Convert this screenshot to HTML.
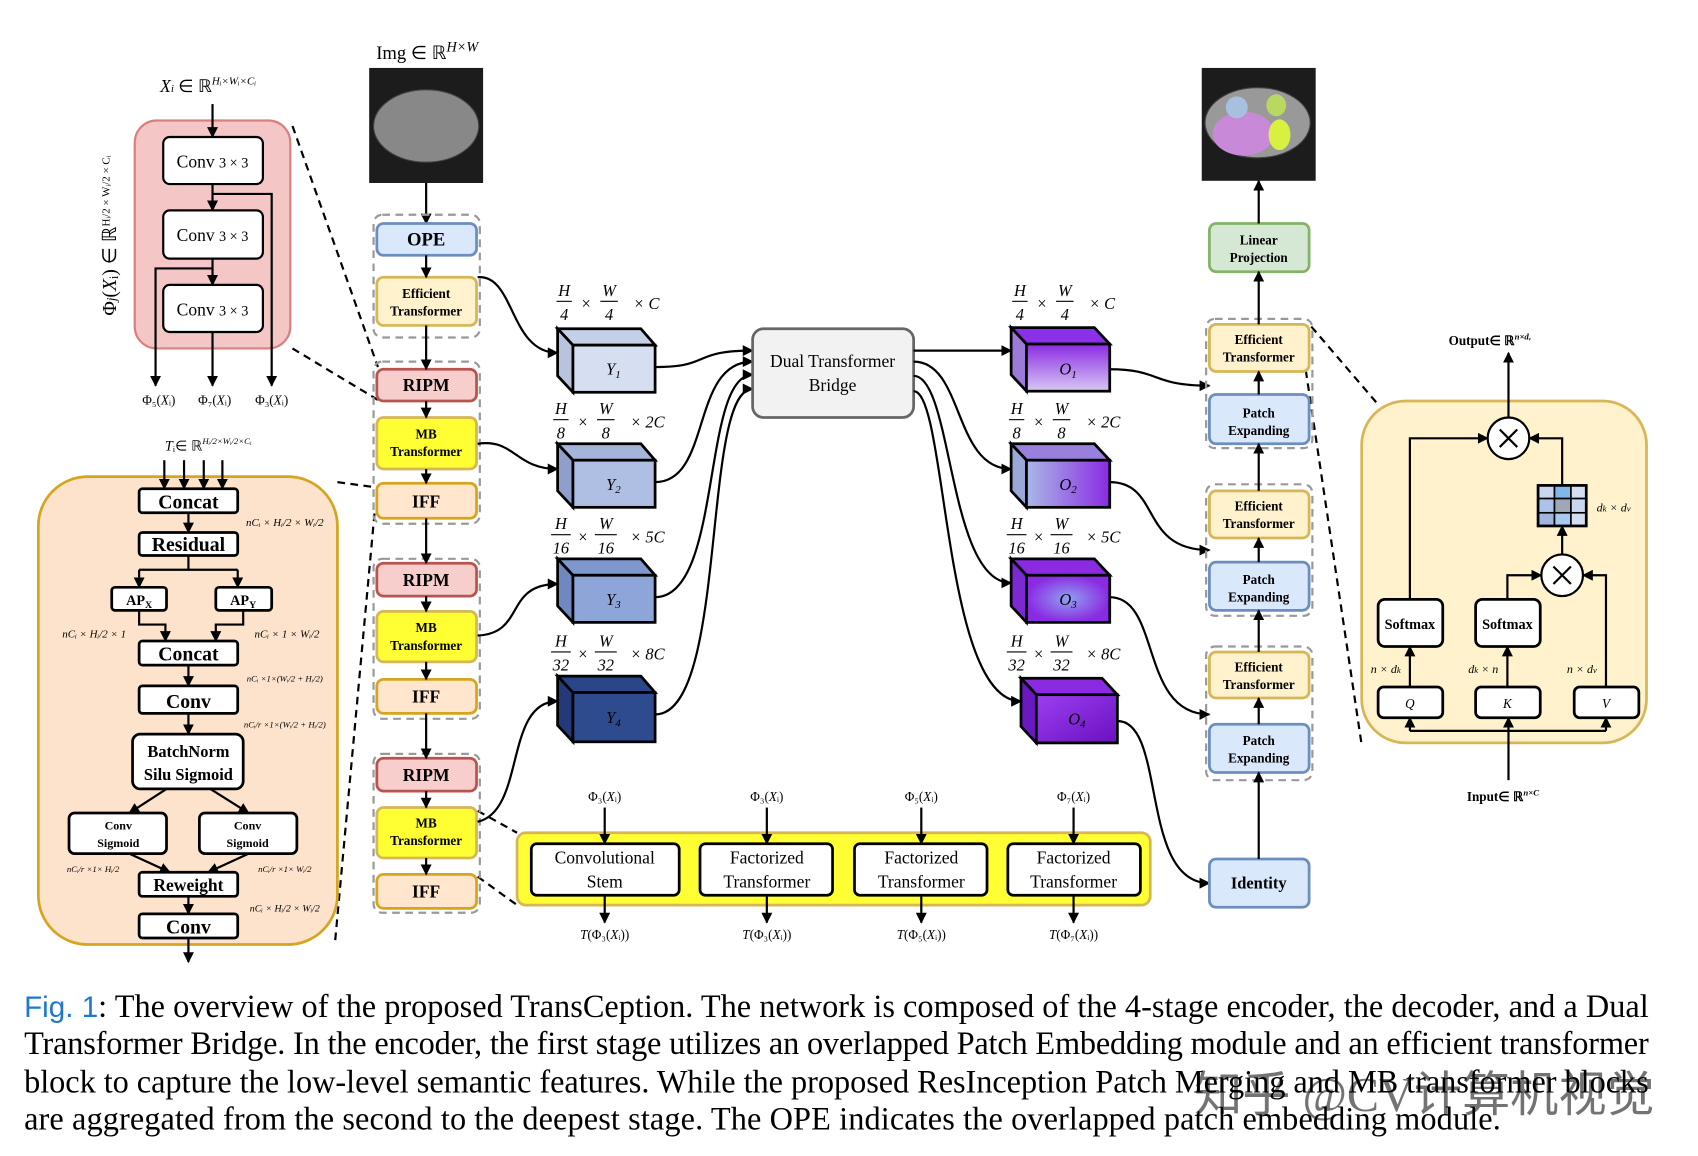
<!DOCTYPE html>
<html><head><meta charset="utf-8"><style>
html,body{margin:0;padding:0;background:#fff;}
svg{display:block;}
text{font-family:"Liberation Serif",serif;fill:#000;}
.b{font-weight:bold;}
.i{font-style:italic;}
</style></head><body>
<svg width="1698" height="1156" viewBox="0 0 1550 1055" preserveAspectRatio="none" xmlns="http://www.w3.org/2000/svg">
<defs>
<marker id="a" viewBox="0 0 10 10" refX="9" refY="5" markerWidth="5" markerHeight="5" orient="auto"><path d="M0,0L10,5L0,10z" fill="#000"/></marker>
<linearGradient id="p1" x1="0" y1="0" x2="0" y2="1"><stop offset="0" stop-color="#8a2be2"/><stop offset="1" stop-color="#d8c8f5"/></linearGradient>
<linearGradient id="p2" x1="0" y1="0" x2="1" y2="0"><stop offset="0" stop-color="#a9b8e8"/><stop offset="1" stop-color="#8a2be2"/></linearGradient>
<radialGradient id="p3"><stop offset="0" stop-color="#8fa0f0"/><stop offset="1" stop-color="#8a2be2"/></radialGradient>
<linearGradient id="p4" x1="0" y1="0" x2="1" y2="1"><stop offset="0" stop-color="#9a40f0"/><stop offset="1" stop-color="#6a10c0"/></linearGradient>
</defs>
<g stroke="#000" stroke-width="2" fill="none">

<rect x="123" y="110" width="142" height="208" rx="20" fill="#f5c6c6" stroke="#d9807f"/>
<rect x="149" y="125" width="91" height="43" rx="6" fill="#fff"/>
<rect x="149" y="192" width="91" height="44" rx="6" fill="#fff"/>
<rect x="149" y="260" width="91" height="43" rx="6" fill="#fff"/>
<line x1="194" y1="95" x2="194" y2="125" marker-end="url(#a)"/>
<line x1="194" y1="168" x2="194" y2="192" marker-end="url(#a)"/>
<line x1="194" y1="236" x2="194" y2="260" marker-end="url(#a)"/>
<line x1="194" y1="303" x2="194" y2="352" marker-end="url(#a)"/>
<polyline points="194,177 248,177 248,352" marker-end="url(#a)"/>
<polyline points="194,245 142,245 142,352" marker-end="url(#a)"/>
<g stroke-dasharray="7,5"><line x1="267" y1="115" x2="345" y2="335"/><line x1="267" y1="318" x2="345" y2="365"/>
<line x1="308" y1="440" x2="345" y2="445"/><line x1="306" y1="858" x2="342" y2="467"/>
<line x1="436" y1="740" x2="472" y2="760"/><line x1="436" y1="800" x2="472" y2="826"/>
<line x1="1197" y1="298" x2="1257" y2="368"/><line x1="1192" y1="338" x2="1243" y2="680"/></g>

<rect x="337" y="62" width="104" height="105" fill="#1c1c1c" stroke="none"/>
<ellipse cx="389" cy="115" rx="48" ry="33" fill="#888" stroke="#444" stroke-width="1"/>
<rect x="1097" y="62" width="104" height="103" fill="#1c1c1c" stroke="none"/>
<ellipse cx="1148" cy="112" rx="48" ry="32" fill="#999" stroke="#444" stroke-width="1"/>
<ellipse cx="1135" cy="122" rx="28" ry="20" fill="#c88ad8" stroke="none"/>
<ellipse cx="1168" cy="123" rx="10" ry="14" fill="#d8f040" stroke="none"/>
<ellipse cx="1165" cy="96" rx="9" ry="10" fill="#b8d860" stroke="none"/>
<ellipse cx="1129" cy="98" rx="10" ry="10" fill="#a8c0e0" stroke="none"/>
<line x1="389" y1="167" x2="389" y2="204" marker-end="url(#a)"/>

<g stroke="#999" stroke-dasharray="7,5">
<rect x="341" y="196" width="97" height="112" rx="8"/>
<rect x="341" y="330" width="97" height="148" rx="8"/>
<rect x="341" y="510" width="97" height="146" rx="8"/>
<rect x="341" y="688" width="97" height="145" rx="8"/>
</g>
<rect x="344" y="204" width="91" height="29" rx="6" fill="#dae8fc" stroke="#6c8ebf" stroke-width="2.5"/>
<rect x="344" y="253" width="91" height="44" rx="6" fill="#fff2cc" stroke="#d6b656" stroke-width="2.5"/>
<g stroke-width="2.5">
<rect x="344" y="337" width="91" height="29" rx="6" fill="#f8cecc" stroke="#b85450"/>
<rect x="344" y="381" width="91" height="47" rx="6" fill="#ffff33" stroke="#d6b656"/>
<rect x="344" y="441" width="91" height="32" rx="6" fill="#ffe6cc" stroke="#d6a520"/>
<rect x="344" y="514" width="91" height="30" rx="6" fill="#f8cecc" stroke="#b85450"/>
<rect x="344" y="558" width="91" height="46" rx="6" fill="#ffff33" stroke="#d6b656"/>
<rect x="344" y="620" width="91" height="31" rx="6" fill="#ffe6cc" stroke="#d6a520"/>
<rect x="344" y="692" width="91" height="30" rx="6" fill="#f8cecc" stroke="#b85450"/>
<rect x="344" y="737" width="91" height="46" rx="6" fill="#ffff33" stroke="#d6b656"/>
<rect x="344" y="798" width="91" height="31" rx="6" fill="#ffe6cc" stroke="#d6a520"/>
</g>
<line x1="389" y1="233" x2="389" y2="253" marker-end="url(#a)"/>
<line x1="389" y1="297" x2="389" y2="337" marker-end="url(#a)"/>
<line x1="389" y1="366" x2="389" y2="381" marker-end="url(#a)"/>
<line x1="389" y1="428" x2="389" y2="441" marker-end="url(#a)"/>
<line x1="389" y1="473" x2="389" y2="514" marker-end="url(#a)"/>
<line x1="389" y1="544" x2="389" y2="558" marker-end="url(#a)"/>
<line x1="389" y1="604" x2="389" y2="620" marker-end="url(#a)"/>
<line x1="389" y1="651" x2="389" y2="692" marker-end="url(#a)"/>
<line x1="389" y1="722" x2="389" y2="737" marker-end="url(#a)"/>
<line x1="389" y1="783" x2="389" y2="798" marker-end="url(#a)"/>

<g stroke-width="2.5">
<path d="M509,300 L585,300 L598,315 L523,315 Z" fill="#c5d0e8"/><path d="M509,300 L523,315 L523,358 L509,343 Z" fill="#b8c3dd"/><rect x="523" y="315" width="75" height="43" fill="#d6dff2"/>
<path d="M509,405 L585,405 L598,420 L523,420 Z" fill="#a5b5da"/><path d="M509,405 L523,420 L523,463 L509,448 Z" fill="#8f9fcc"/><rect x="523" y="420" width="75" height="43" fill="#aebfe3"/>
<path d="M509,510 L585,510 L598,525 L523,525 Z" fill="#7f97cf"/><path d="M509,510 L523,525 L523,568 L509,553 Z" fill="#7088c0"/><rect x="523" y="525" width="75" height="43" fill="#8da5d9"/>
<path d="M509,617 L585,617 L598,632 L523,632 Z" fill="#2a4588"/><path d="M509,617 L523,632 L523,677 L509,662 Z" fill="#223a78"/><rect x="523" y="632" width="75" height="45" fill="#2f4b90"/>
</g>
<path d="M436,253 C470,250 465,322 509,322" marker-end="url(#a)"/>
<path d="M436,405 C470,400 470,428 509,428" marker-end="url(#a)"/>
<path d="M436,580 C480,578 460,533 509,533" marker-end="url(#a)"/>
<path d="M436,750 C480,740 460,640 509,640" marker-end="url(#a)"/>
<path d="M598,335 C650,335 630,320 687,320" marker-end="url(#a)"/>
<path d="M598,440 C650,440 630,330 687,330" marker-end="url(#a)"/>
<path d="M598,545 C660,545 640,342 687,342" marker-end="url(#a)"/>
<path d="M598,652 C665,652 640,355 687,355" marker-end="url(#a)"/>

<rect x="687" y="300" width="147" height="81" rx="10" fill="#f2f2f2" stroke="#666" stroke-width="2.5"/>

<path d="M834,320 L923,320" marker-end="url(#a)"/>
<path d="M834,330 C880,330 870,428 923,428" marker-end="url(#a)"/>
<path d="M834,343 C870,343 865,532 923,532" marker-end="url(#a)"/>
<path d="M834,357 C865,357 860,640 932,640" marker-end="url(#a)"/>

<g stroke-width="2.5">
<path d="M923,299 L999,299 L1013,314 L937,314 Z" fill="#8a30e8"/><path d="M923,299 L937,314 L937,357 L923,342 Z" fill="#9b7ad8"/><rect x="937" y="314" width="76" height="43" fill="url(#p1)"/>
<path d="M923,405 L999,405 L1013,420 L937,420 Z" fill="#9a80dd"/><path d="M923,405 L937,420 L937,463 L923,448 Z" fill="#9aa8d8"/><rect x="937" y="420" width="76" height="43" fill="url(#p2)"/>
<path d="M923,510 L999,510 L1013,525 L937,525 Z" fill="#8a2be2"/><path d="M923,510 L937,525 L937,568 L923,553 Z" fill="#7a2ad0"/><rect x="937" y="525" width="76" height="43" fill="url(#p3)"/>
<path d="M932,619 L1006,619 L1020,634 L946,634 Z" fill="#8a2be2"/><path d="M932,619 L946,634 L946,678 L932,663 Z" fill="#6a18c0"/><rect x="946" y="634" width="74" height="44" fill="url(#p4)"/>
</g>
<path d="M1013,337 C1060,337 1050,352 1104,352" marker-end="url(#a)"/>
<path d="M1013,440 C1060,440 1040,502 1104,502" marker-end="url(#a)"/>
<path d="M1013,545 C1060,545 1040,652 1104,652" marker-end="url(#a)"/>
<path d="M1020,658 C1065,658 1040,806 1104,806" marker-end="url(#a)"/>

<g stroke="#999" stroke-dasharray="7,5">
<rect x="1101" y="291" width="97" height="118" rx="8"/>
<rect x="1101" y="442" width="97" height="120" rx="8"/>
<rect x="1101" y="590" width="97" height="122" rx="8"/>
</g>
<g stroke-width="2.5">
<rect x="1104" y="204" width="91" height="44" rx="6" fill="#d5e8d4" stroke="#82b366"/>
<rect x="1104" y="296" width="91" height="43" rx="6" fill="#fff2cc" stroke="#d6b656"/>
<rect x="1104" y="360" width="91" height="45" rx="6" fill="#dae8fc" stroke="#6c8ebf"/>
<rect x="1104" y="448" width="91" height="43" rx="6" fill="#fff2cc" stroke="#d6b656"/>
<rect x="1104" y="513" width="91" height="44" rx="6" fill="#dae8fc" stroke="#6c8ebf"/>
<rect x="1104" y="595" width="91" height="42" rx="6" fill="#fff2cc" stroke="#d6b656"/>
<rect x="1104" y="661" width="91" height="44" rx="6" fill="#dae8fc" stroke="#6c8ebf"/>
<rect x="1104" y="784" width="91" height="44" rx="6" fill="#dae8fc" stroke="#6c8ebf"/>
</g>
<line x1="1149" y1="784" x2="1149" y2="705" marker-end="url(#a)"/>
<line x1="1149" y1="661" x2="1149" y2="637" marker-end="url(#a)"/>
<line x1="1149" y1="595" x2="1149" y2="557" marker-end="url(#a)"/>
<line x1="1149" y1="513" x2="1149" y2="491" marker-end="url(#a)"/>
<line x1="1149" y1="448" x2="1149" y2="405" marker-end="url(#a)"/>
<line x1="1149" y1="360" x2="1149" y2="339" marker-end="url(#a)"/>
<line x1="1149" y1="296" x2="1149" y2="248" marker-end="url(#a)"/>
<line x1="1149" y1="204" x2="1149" y2="165" marker-end="url(#a)"/>

<rect x="1243" y="366" width="260" height="312" rx="40" fill="#fff2cc" stroke="#d6b656" stroke-width="2.5"/>
<circle cx="1377" cy="400" r="19" fill="#fff"/>
<path d="M1369,392L1385,408M1385,392L1369,408"/>
<circle cx="1426" cy="525" r="19" fill="#fff"/>
<path d="M1418,517L1434,533M1434,517L1418,533"/>
<line x1="1377" y1="381" x2="1377" y2="322" marker-end="url(#a)"/>
<g stroke-width="1.5">
<rect x="1404" y="443" width="15" height="12" fill="#c9d6ef"/><rect x="1419" y="443" width="15" height="12" fill="#7fb8ea"/><rect x="1434" y="443" width="14" height="12" fill="#d4def2"/>
<rect x="1404" y="455" width="15" height="13" fill="#a9c4e8"/><rect x="1419" y="455" width="15" height="13" fill="#a0a8b8"/><rect x="1434" y="455" width="14" height="13" fill="#c9d6ef"/>
<rect x="1404" y="468" width="15" height="12" fill="#9fb6e0"/><rect x="1419" y="468" width="15" height="12" fill="#a9c9ee"/><rect x="1434" y="468" width="14" height="12" fill="#d4def2"/>
</g>
<rect x="1404" y="443" width="44" height="37" stroke-width="2.5"/>
<line x1="1426" y1="506" x2="1426" y2="480" marker-end="url(#a)"/>
<polyline points="1426,443 1426,400 1396,400" marker-end="url(#a)"/>
<polyline points="1287,547 1287,400 1358,400" marker-end="url(#a)"/>
<polyline points="1376,547 1376,525 1407,525" marker-end="url(#a)"/>
<polyline points="1466,627 1466,525 1445,525" marker-end="url(#a)"/>
<rect x="1258" y="547" width="59" height="43" rx="6" fill="#fff" stroke-width="2.5"/>
<rect x="1347" y="547" width="59" height="43" rx="6" fill="#fff" stroke-width="2.5"/>
<rect x="1258" y="627" width="59" height="28" rx="5" fill="#fff" stroke-width="2.5"/>
<rect x="1347" y="627" width="59" height="28" rx="5" fill="#fff" stroke-width="2.5"/>
<rect x="1437" y="627" width="59" height="28" rx="5" fill="#fff" stroke-width="2.5"/>
<line x1="1287" y1="627" x2="1287" y2="590" marker-end="url(#a)"/>
<line x1="1376" y1="627" x2="1376" y2="590" marker-end="url(#a)"/>
<line x1="1377" y1="712" x2="1377" y2="655" marker-end="url(#a)"/>
<polyline points="1287,667 1466,667"/>
<line x1="1287" y1="667" x2="1287" y2="655" marker-end="url(#a)"/>
<line x1="1466" y1="667" x2="1466" y2="655" marker-end="url(#a)"/>

<rect x="472" y="760" width="578" height="66" rx="8" fill="#ffff33" stroke="#d6b656" stroke-width="2.5"/>
<g stroke-width="2.5" fill="#fff">
<rect x="485" y="770" width="135" height="47" rx="5"/>
<rect x="639" y="770" width="121" height="47" rx="5"/>
<rect x="780" y="770" width="121" height="47" rx="5"/>
<rect x="920" y="770" width="121" height="47" rx="5"/>
</g>
<line x1="552" y1="737" x2="552" y2="770" marker-end="url(#a)"/>
<line x1="700" y1="737" x2="700" y2="770" marker-end="url(#a)"/>
<line x1="841" y1="737" x2="841" y2="770" marker-end="url(#a)"/>
<line x1="980" y1="737" x2="980" y2="770" marker-end="url(#a)"/>
<line x1="552" y1="817" x2="552" y2="842" marker-end="url(#a)"/>
<line x1="700" y1="817" x2="700" y2="842" marker-end="url(#a)"/>
<line x1="841" y1="817" x2="841" y2="842" marker-end="url(#a)"/>
<line x1="980" y1="817" x2="980" y2="842" marker-end="url(#a)"/>

<rect x="35" y="435" width="273" height="427" rx="45" fill="#fde3cc" stroke="#d6a520" stroke-width="2.5"/>
<line x1="150" y1="420" x2="150" y2="446" marker-end="url(#a)"/>
<line x1="168" y1="420" x2="168" y2="446" marker-end="url(#a)"/>
<line x1="186" y1="420" x2="186" y2="446" marker-end="url(#a)"/>
<line x1="203" y1="420" x2="203" y2="446" marker-end="url(#a)"/>
<g stroke-width="2.5" fill="#fff">
<rect x="127" y="446" width="90" height="22" rx="3"/>
<rect x="127" y="486" width="90" height="21" rx="3"/>
<rect x="102" y="536" width="50" height="21" rx="3"/>
<rect x="197" y="536" width="51" height="21" rx="3"/>
<rect x="127" y="585" width="90" height="22" rx="3"/>
<rect x="127" y="626" width="90" height="25" rx="3"/>
<rect x="121" y="670" width="101" height="50" rx="7"/>
<rect x="63" y="742" width="89" height="37" rx="5"/>
<rect x="182" y="742" width="89" height="37" rx="5"/>
<rect x="127" y="796" width="90" height="22" rx="3"/>
<rect x="127" y="834" width="90" height="22" rx="3"/>
</g>
<line x1="172" y1="468" x2="172" y2="486" marker-end="url(#a)"/>
<polyline points="172,507 172,520 127,520"/><polyline points="172,520 217,520"/>
<line x1="127" y1="520" x2="127" y2="536" marker-end="url(#a)"/>
<line x1="217" y1="520" x2="217" y2="536" marker-end="url(#a)"/>
<polyline points="127,557 127,570 151,570 151,585" marker-end="url(#a)"/>
<polyline points="222,557 222,570 197,570 197,585" marker-end="url(#a)"/>
<line x1="172" y1="607" x2="172" y2="626" marker-end="url(#a)"/>
<line x1="172" y1="651" x2="172" y2="670" marker-end="url(#a)"/>
<line x1="152" y1="720" x2="118" y2="742" marker-end="url(#a)"/>
<line x1="192" y1="720" x2="227" y2="742" marker-end="url(#a)"/>
<line x1="118" y1="779" x2="155" y2="796" marker-end="url(#a)"/>
<line x1="227" y1="779" x2="190" y2="796" marker-end="url(#a)"/>
<line x1="172" y1="818" x2="172" y2="834" marker-end="url(#a)"/>
<line x1="172" y1="856" x2="172" y2="878" marker-end="url(#a)"/>
</g>

<g font-size="13" text-anchor="middle">
<text x="190" y="84" font-size="16"><tspan class="i">X</tspan><tspan font-size="10" class="i">i</tspan> ∈ ℝ<tspan font-size="10" dy="-7" class="i">Hᵢ×Wᵢ×Cᵢ</tspan></text>
<text x="194" y="153" font-size="16">Conv  <tspan font-size="13">3 × 3</tspan></text>
<text x="194" y="220" font-size="16">Conv  <tspan font-size="13">3 × 3</tspan></text>
<text x="194" y="288" font-size="16">Conv  <tspan font-size="13">3 × 3</tspan></text>
<text x="145" y="369" font-size="12">Φ₅(<tspan class="i">X</tspan>ᵢ)</text>
<text x="196" y="369" font-size="12">Φ₇(<tspan class="i">X</tspan>ᵢ)</text>
<text x="248" y="369" font-size="12">Φ₃(<tspan class="i">X</tspan>ᵢ)</text>
<text x="0" y="0" font-size="18" transform="translate(106,215) rotate(-90)">Φ<tspan class="i" font-size="12">j</tspan>(<tspan class="i">X</tspan>ᵢ) ∈ ℝ<tspan font-size="10" dy="-6">Hᵢ/2 × Wᵢ/2 × Cᵢ</tspan></text>
<text x="390" y="54" font-size="17">Img ∈ ℝ<tspan font-size="13" dy="-7" class="i">H×W</tspan></text>

<text x="389" y="224" font-size="17" class="b">OPE</text>
<text x="389" y="272" font-size="12" class="b">Efficient</text><text x="389" y="288" font-size="12" class="b">Transformer</text>
<text x="389" y="357" font-size="16" class="b">RIPM</text>
<text x="389" y="400" font-size="12" class="b">MB</text><text x="389" y="416" font-size="12" class="b">Transformer</text>
<text x="389" y="463" font-size="16" class="b">IFF</text>
<text x="389" y="535" font-size="16" class="b">RIPM</text>
<text x="389" y="577" font-size="12" class="b">MB</text><text x="389" y="593" font-size="12" class="b">Transformer</text>
<text x="389" y="641" font-size="16" class="b">IFF</text>
<text x="389" y="713" font-size="16" class="b">RIPM</text>
<text x="389" y="755" font-size="12" class="b">MB</text><text x="389" y="771" font-size="12" class="b">Transformer</text>
<text x="389" y="819" font-size="16" class="b">IFF</text>

<text x="560" y="342" font-size="15" class="i">Y<tspan font-size="10" dy="3">1</tspan></text>
<text x="560" y="447" font-size="15" class="i">Y<tspan font-size="10" dy="3">2</tspan></text>
<text x="560" y="552" font-size="15" class="i">Y<tspan font-size="10" dy="3">3</tspan></text>
<text x="560" y="660" font-size="15" class="i">Y<tspan font-size="10" dy="3">4</tspan></text>
<text x="975" y="342" font-size="15" class="i">O<tspan font-size="10" dy="3">1</tspan></text>
<text x="975" y="447" font-size="15" class="i">O<tspan font-size="10" dy="3">2</tspan></text>
<text x="975" y="552" font-size="15" class="i">O<tspan font-size="10" dy="3">3</tspan></text>
<text x="983" y="661" font-size="15" class="i">O<tspan font-size="10" dy="3">4</tspan></text>

<text x="760" y="335" font-size="16">Dual Transformer</text>
<text x="760" y="357" font-size="16">Bridge</text>

<text x="1149" y="223" font-size="12" class="b">Linear</text><text x="1149" y="239" font-size="12" class="b">Projection</text>
<text x="1149" y="314" font-size="12" class="b">Efficient</text><text x="1149" y="330" font-size="12" class="b">Transformer</text>
<text x="1149" y="381" font-size="12" class="b">Patch</text><text x="1149" y="397" font-size="12" class="b">Expanding</text>
<text x="1149" y="466" font-size="12" class="b">Efficient</text><text x="1149" y="482" font-size="12" class="b">Transformer</text>
<text x="1149" y="533" font-size="12" class="b">Patch</text><text x="1149" y="549" font-size="12" class="b">Expanding</text>
<text x="1149" y="613" font-size="12" class="b">Efficient</text><text x="1149" y="629" font-size="12" class="b">Transformer</text>
<text x="1149" y="680" font-size="12" class="b">Patch</text><text x="1149" y="696" font-size="12" class="b">Expanding</text>
<text x="1149" y="811" font-size="15" class="b">Identity</text>

<text x="1360" y="315" font-size="12" class="b">Output∈ ℝ<tspan font-size="8" dy="-5" class="i">n×dᵥ</tspan></text>
<text x="1372" y="731" font-size="12" class="b">Input∈ ℝ<tspan font-size="8" dy="-5" class="i">n×C</tspan></text>
<text x="1287" y="574" font-size="13" class="b">Softmax</text>
<text x="1376" y="574" font-size="13" class="b">Softmax</text>
<text x="1287" y="646" font-size="12" class="i">Q</text>
<text x="1376" y="646" font-size="12" class="i">K</text>
<text x="1466" y="646" font-size="12" class="i">V</text>
<text x="1265" y="614" font-size="11" class="i">n × d<tspan font-size="8">k</tspan></text>
<text x="1354" y="614" font-size="11" class="i">d<tspan font-size="8">k</tspan> × n</text>
<text x="1444" y="614" font-size="11" class="i">n × d<tspan font-size="8">v</tspan></text>
<text x="1473" y="467" font-size="11" class="i">d<tspan font-size="8">k</tspan> × d<tspan font-size="8">v</tspan></text>

<text x="552" y="731" font-size="12">Φ₃(<tspan class="i">X</tspan>ᵢ)</text>
<text x="700" y="731" font-size="12">Φ₃(<tspan class="i">X</tspan>ᵢ)</text>
<text x="841" y="731" font-size="12">Φ₅(<tspan class="i">X</tspan>ᵢ)</text>
<text x="980" y="731" font-size="12">Φ₇(<tspan class="i">X</tspan>ᵢ)</text>
<text x="552" y="788" font-size="16">Convolutional</text><text x="552" y="810" font-size="16">Stem</text>
<text x="700" y="788" font-size="16">Factorized</text><text x="700" y="810" font-size="16">Transformer</text>
<text x="841" y="788" font-size="16">Factorized</text><text x="841" y="810" font-size="16">Transformer</text>
<text x="980" y="788" font-size="16">Factorized</text><text x="980" y="810" font-size="16">Transformer</text>
<text x="552" y="857" font-size="12"><tspan class="i">T</tspan>(Φ₃(<tspan class="i">X</tspan>ᵢ))</text>
<text x="700" y="857" font-size="12"><tspan class="i">T</tspan>(Φ₃(<tspan class="i">X</tspan>ᵢ))</text>
<text x="841" y="857" font-size="12"><tspan class="i">T</tspan>(Φ₅(<tspan class="i">X</tspan>ᵢ))</text>
<text x="980" y="857" font-size="12"><tspan class="i">T</tspan>(Φ₇(<tspan class="i">X</tspan>ᵢ))</text>

<text x="190" y="411" font-size="13"><tspan class="i">T</tspan>ᵢ∈ ℝ<tspan font-size="8" dy="-6" class="i">Hᵢ/2×Wᵢ/2×Cᵢ</tspan></text>
<text x="172" y="464" font-size="18" class="b">Concat</text>
<text x="172" y="503" font-size="18" class="b">Residual</text>
<text x="127" y="552" font-size="13" class="b">AP<tspan font-size="9" dy="3">X</tspan></text>
<text x="222" y="552" font-size="13" class="b">AP<tspan font-size="9" dy="3">Y</tspan></text>
<text x="172" y="603" font-size="18" class="b">Concat</text>
<text x="172" y="646" font-size="18" class="b">Conv</text>
<text x="172" y="691" font-size="15" class="b">BatchNorm</text>
<text x="172" y="712" font-size="15" class="b">Silu Sigmoid</text>
<text x="108" y="757" font-size="11" class="b">Conv</text><text x="108" y="773" font-size="11" class="b">Sigmoid</text>
<text x="226" y="757" font-size="11" class="b">Conv</text><text x="226" y="773" font-size="11" class="b">Sigmoid</text>
<text x="172" y="813" font-size="16" class="b">Reweight</text>
<text x="172" y="852" font-size="18" class="b">Conv</text>
<text x="260" y="480" font-size="10" class="i">nCᵢ × Hᵢ/2 × Wᵢ/2</text>
<text x="86" y="582" font-size="10" class="i">nCᵢ × Hᵢ/2 × 1</text>
<text x="262" y="582" font-size="10" class="i">nCᵢ × 1 × Wᵢ/2</text>
<text x="260" y="622" font-size="8" class="i">nCᵢ ×1×(Wᵢ/2 + Hᵢ/2)</text>
<text x="260" y="664" font-size="8" class="i">nCᵢ/r ×1×(Wᵢ/2 + Hᵢ/2)</text>
<text x="85" y="796" font-size="8" class="i">nCᵢ/r ×1× Hᵢ/2</text>
<text x="260" y="796" font-size="8" class="i">nCᵢ/r ×1× Wᵢ/2</text>
<text x="260" y="832" font-size="9" class="i">nCᵢ × Hᵢ/2 × Wᵢ/2</text>
</g>

<g font-size="15" font-style="italic" text-anchor="middle" stroke="none">
<g transform="translate(515,270)"><text x="0" y="0">H</text><line x1="-7" y1="5" x2="7" y2="5" stroke="#000"/><text x="0" y="22">4</text><text x="20" y="12">×</text><text x="41" y="0">W</text><line x1="33" y1="5" x2="49" y2="5" stroke="#000"/><text x="41" y="22">4</text><text x="75" y="12">× C</text></g>
<g transform="translate(512,378)"><text x="0" y="0">H</text><line x1="-7" y1="5" x2="7" y2="5" stroke="#000"/><text x="0" y="22">8</text><text x="20" y="12">×</text><text x="41" y="0">W</text><line x1="33" y1="5" x2="49" y2="5" stroke="#000"/><text x="41" y="22">8</text><text x="79" y="12">× 2C</text></g>
<g transform="translate(512,483)"><text x="0" y="0">H</text><line x1="-9" y1="5" x2="9" y2="5" stroke="#000"/><text x="0" y="22">16</text><text x="20" y="12">×</text><text x="41" y="0">W</text><line x1="31" y1="5" x2="51" y2="5" stroke="#000"/><text x="41" y="22">16</text><text x="79" y="12">× 5C</text></g>
<g transform="translate(512,590)"><text x="0" y="0">H</text><line x1="-9" y1="5" x2="9" y2="5" stroke="#000"/><text x="0" y="22">32</text><text x="20" y="12">×</text><text x="41" y="0">W</text><line x1="31" y1="5" x2="51" y2="5" stroke="#000"/><text x="41" y="22">32</text><text x="79" y="12">× 8C</text></g>
<g transform="translate(931,270)"><text x="0" y="0">H</text><line x1="-7" y1="5" x2="7" y2="5" stroke="#000"/><text x="0" y="22">4</text><text x="20" y="12">×</text><text x="41" y="0">W</text><line x1="33" y1="5" x2="49" y2="5" stroke="#000"/><text x="41" y="22">4</text><text x="75" y="12">× C</text></g>
<g transform="translate(928,378)"><text x="0" y="0">H</text><line x1="-7" y1="5" x2="7" y2="5" stroke="#000"/><text x="0" y="22">8</text><text x="20" y="12">×</text><text x="41" y="0">W</text><line x1="33" y1="5" x2="49" y2="5" stroke="#000"/><text x="41" y="22">8</text><text x="79" y="12">× 2C</text></g>
<g transform="translate(928,483)"><text x="0" y="0">H</text><line x1="-9" y1="5" x2="9" y2="5" stroke="#000"/><text x="0" y="22">16</text><text x="20" y="12">×</text><text x="41" y="0">W</text><line x1="31" y1="5" x2="51" y2="5" stroke="#000"/><text x="41" y="22">16</text><text x="79" y="12">× 5C</text></g>
<g transform="translate(928,590)"><text x="0" y="0">H</text><line x1="-9" y1="5" x2="9" y2="5" stroke="#000"/><text x="0" y="22">32</text><text x="20" y="12">×</text><text x="41" y="0">W</text><line x1="31" y1="5" x2="51" y2="5" stroke="#000"/><text x="41" y="22">32</text><text x="79" y="12">× 8C</text></g>
</g>

<g font-size="29.5">
<text x="22" y="928" textLength="1483" lengthAdjust="spacing"><tspan fill="#1f77d0" font-family="Liberation Sans, sans-serif" font-size="27">Fig. 1</tspan>: The overview of the proposed TransCeption. The network is composed of the 4-stage encoder, the decoder, and a Dual</text>
<text x="22" y="962" textLength="1483" lengthAdjust="spacing">Transformer Bridge. In the encoder, the first stage utilizes an overlapped Patch Embedding module and an efficient transformer</text>
<text x="22" y="997" textLength="1483" lengthAdjust="spacing">block to capture the low-level semantic features. While the proposed ResInception Patch Merging and MB transformer blocks</text>
<text x="22" y="1031" textLength="1348" lengthAdjust="spacing">are aggregated from the second to the deepest stage. The OPE indicates the overlapped patch embedding module.</text>
</g>
<text x="1090" y="1014" font-size="44" fill="#999" fill-opacity="0.55" font-family="Liberation Sans, Noto Sans CJK SC, sans-serif">知乎 @CV计算机视觉</text>
</svg>
</body></html>
